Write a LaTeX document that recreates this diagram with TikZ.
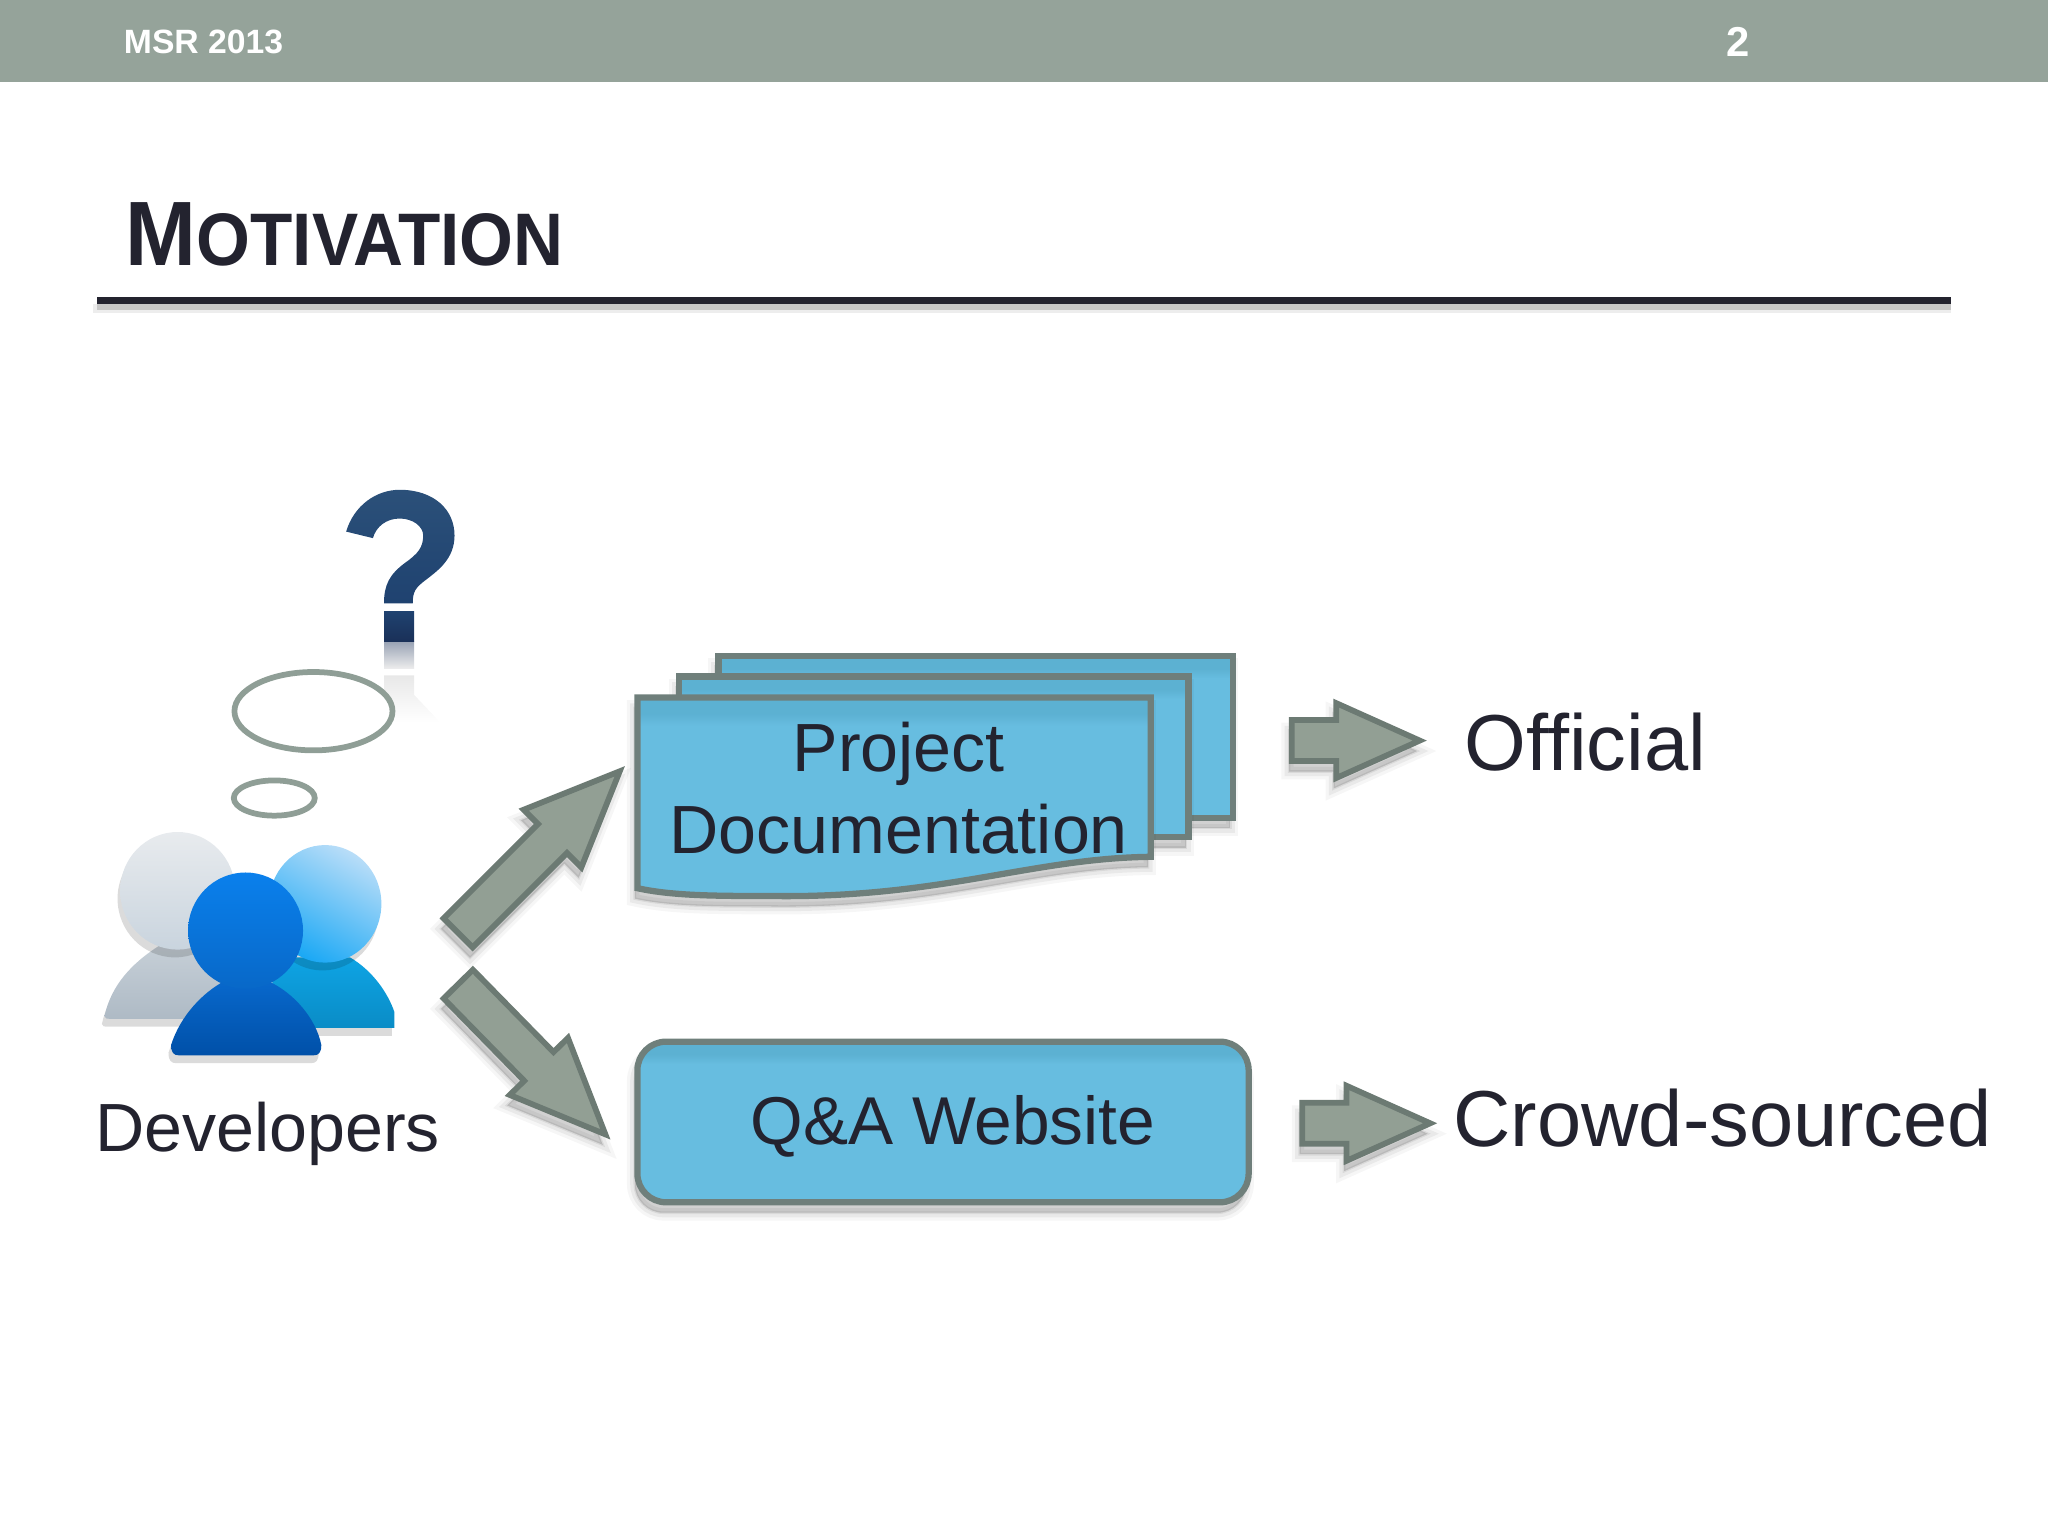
\documentclass[tikz,border=0pt]{standalone}
\usepackage{fontspec}
\usepackage{graphicx}
\setmainfont{Liberation Sans}
\usetikzlibrary{shapes.geometric,shapes.arrows,shadows,fadings}
\definecolor{barcol}{HTML}{95A39A}
\definecolor{inkcol}{HTML}{23232F}
\definecolor{boxfill}{HTML}{67BDE0}
\definecolor{boxtop}{HTML}{5CB1D2}
\definecolor{boxline}{HTML}{6F7F7B}
\definecolor{arrowfill}{HTML}{929F94}
\definecolor{arrowline}{HTML}{6C7A73}
\definecolor{ringcol}{HTML}{8F9E96}
\definecolor{qtop}{HTML}{2B5079}
\definecolor{qmid}{HTML}{1F4270}
\definecolor{qlow}{HTML}{1A3058}
\pgfdeclareverticalshading{boxgrad}{100bp}{color(0bp)=(boxfill); color(68bp)=(boxfill); color(71bp)=(boxtop); color(100bp)=(boxtop)}
\tikzset{
  softshadow/.style={
    general shadow={draw=black,fill=black,opacity=.035,line width=6pt,shadow xshift=-1pt,shadow yshift=-4pt},
    general shadow={draw=black,fill=black,opacity=.05,line width=3.5pt,shadow xshift=-1pt,shadow yshift=-4pt},
    general shadow={draw=black,fill=black,opacity=.07,line width=1pt,shadow xshift=-1pt,shadow yshift=-4pt}},
  bluesheet/.style={draw=boxline,line width=2.4pt,shading=boxgrad,line join=miter},
  blockarrow/.style={single arrow,draw=arrowline,fill=arrowfill,line width=2.2pt,inner sep=0pt,outer sep=0pt,
    inner ysep=6.75pt,softshadow},
  ring/.style={ellipse,draw=ringcol,fill=white,line width=2.2pt,inner sep=0pt},
  bigtext/.style={text=inkcol,inner sep=0pt,anchor=base west},
  personshadow/.style={general shadow={fill=black,opacity=.14,shadow xshift=-1pt,shadow yshift=-3pt}}
}
\begin{document}
\begin{tikzpicture}[x=.5pt,y=-.5pt]
\useasboundingbox (0,0) rectangle (1568,1176);
% header
\fill[barcol] (0,0) rectangle (1568,62.5);
\node[anchor=base west,inner sep=0pt,text=white,font=\fontsize{12.9pt}{15pt}\selectfont\bfseries] (conf) at (94.5,41) {MSR 2013};
\node[anchor=base,inner sep=0pt,text=white,font=\fontsize{16pt}{18pt}\selectfont\bfseries] (pageno) at (1330.5,43) {2};
% title
\node[anchor=base west,inner sep=0pt,text=inkcol] (title) at (96,203) {\scalebox{.93}[1]{\bfseries\fontsize{35pt}{40pt}\selectfont M\fontsize{28.5pt}{40pt}\selectfont OTIVATION}};
\fill[black,opacity=.07] (71,233) rectangle (1494,240);
\fill[black,opacity=.16] (74,233) rectangle (1494,237);
\fill[inkcol] (74,227.5) rectangle (1493.5,232.5);
% question mark and its reflection
\shade[top color=qlow!45,bottom color=black!7] (294,491) rectangle (317,512);
\shade[top color=black!9,bottom color=white] (294,517) -- (317,517) -- (317,532) -- (337,553) -- (294,553) -- cycle;
\shade[top color=qtop,bottom color=qmid]
  (265,407) .. controls (271,387) and (288,375) .. (306,375)
  .. controls (332,375) and (348,390) .. (348,410)
  .. controls (348,428) and (335,437) .. (326,444)
  .. controls (318,450) and (316,453) .. (316,462)
  -- (294,462) .. controls (294,448) and (298,440) .. (310,431)
  .. controls (320,424) and (324,419) .. (324,410)
  .. controls (324,403) and (316,397) .. (306,397)
  .. controls (296,397) and (288,403) .. (285.5,412) -- cycle;
\shade[top color=qmid,bottom color=qlow] (294,468) rectangle (317,491);
% thought bubbles
\node[ring,minimum width=60.5pt,minimum height=30pt] (bubbleA) at (240,544.5) {};
\node[ring,minimum width=31pt,minimum height=13.5pt] (bubbleB) at (210,611) {};
% people
\definecolor{grayA}{HTML}{C6CFD7}\definecolor{grayB}{HTML}{AEBAC5}
\definecolor{grayC}{HTML}{E8EBEE}\definecolor{grayD}{HTML}{C9D4DE}
\definecolor{ltA}{HTML}{0EA4E4}\definecolor{ltB}{HTML}{0A8CC6}
\definecolor{ltC}{HTML}{B8DDF8}\definecolor{ltD}{HTML}{1AA8F5}
\definecolor{dkA}{HTML}{0868CC}\definecolor{dkB}{HTML}{0050A8}
\definecolor{dkC}{HTML}{0A80EC}\definecolor{dkD}{HTML}{0868C8}
\shade[personshadow,top color=grayA,bottom color=grayB]
  (80,778) .. controls (85,755) and (100,738) .. (122,724) -- (170,724) -- (215,780) -- (85,780) .. controls (82,780) and (80,780) .. (80,778) -- cycle;
\shade[personshadow,top color=grayC,bottom color=grayD] (136,682) ellipse [x radius=44,y radius=45];
\shade[personshadow,top color=ltA,bottom color=ltB]
  (300,787) -- (215,787) -- (205,733) -- (268,733) .. controls (285,743) and (297,760) .. (302,775) -- (302,787) -- cycle;
\shade[personshadow,top color=ltC,bottom color=ltD,shading angle=-30] (249,692) ellipse [x radius=43,y radius=45];
\shade[personshadow,top color=dkA,bottom color=dkB]
  (131,800) .. controls (138,778) and (155,760) .. (172,751) -- (205,751)
  .. controls (225,760) and (242,780) .. (246,800)
  .. controls (246,806) and (244,808) .. (240,808) -- (137,808) .. controls (133,808) and (131,806) .. (131,800) -- cycle;
\shade[top color=dkC,bottom color=dkD] (188,712.5) ellipse [x radius=44,y radius=44.5];
\node[bigtext,font=\fontsize{26.1pt}{30pt}\selectfont] (devs) at (72.5,881.5) {Developers};
% sheets
\draw[bluesheet,softshadow] (550,502) rectangle (944,626);
\draw[bluesheet,softshadow] (520,518) rectangle (910,641);
\draw[bluesheet,softshadow] (488,534) -- (881,534) -- (881,656)
  .. controls (790,657) and (720,688) .. (590,686)
  .. controls (550,686) and (515,686) .. (488,680) -- cycle;
\node[text=inkcol,align=center,inner sep=0pt,font=\fontsize{26.1pt}{31.5pt}\selectfont] (docs) at (688,603.5) {Project\\Documentation};
% Q&A box
\node[draw=boxline,line width=2.4pt,shading=boxgrad,rectangle,rounded corners=11pt,minimum width=234pt,minimum height=61.5pt,inner sep=0pt,softshadow] (qa) at (722,859) {};
\node[anchor=base,inner sep=0pt,text=inkcol,font=\fontsize{25.9pt}{30pt}\selectfont] (qatext) at (729.5,876) {Q\&A Website};
% block arrows
\node[blockarrow,rotate=45,anchor=tip,minimum height=87.5pt,minimum width=29pt,single arrow head extend=7.75pt,single arrow tip angle=46.4] (up) at (474.5,590.5) {};
\node[blockarrow,rotate=-45.6,anchor=tip,minimum height=80.5pt,minimum width=29pt,single arrow head extend=7.75pt,single arrow tip angle=46.4] (down) at (463.5,868.5) {};
\node[blockarrow,anchor=tip,minimum height=49pt,minimum width=27pt,single arrow head extend=6.5pt,single arrow tip angle=48.3] (offarrow) at (1087,567) {};
\node[blockarrow,anchor=tip,minimum height=49pt,minimum width=27pt,single arrow head extend=6.5pt,single arrow tip angle=48.3] (crowdarrow) at (1095,860) {};
% outcome labels
\node[bigtext,font=\fontsize{30.4pt}{36pt}\selectfont] (official) at (1121,590) {Official};
\node[bigtext,font=\fontsize{30.4pt}{36pt}\selectfont] (crowd) at (1112.5,878) {Crowd-sourced};
\end{tikzpicture}
\end{document}
